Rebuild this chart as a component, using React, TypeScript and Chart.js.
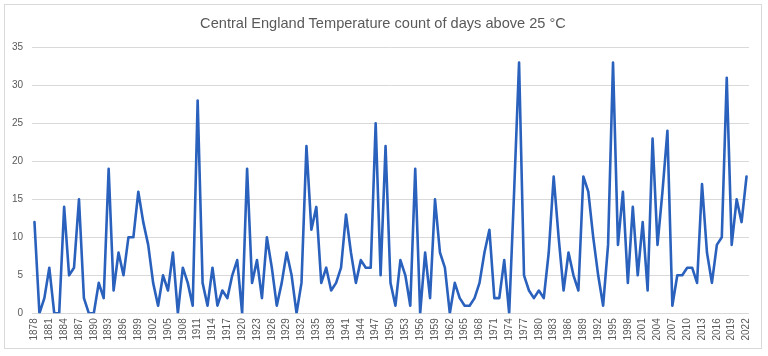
import React, { useEffect, useRef } from "react";
import { Chart, registerables } from "chart.js";

Chart.register(...registerables);

const startYear = 1878;
const endYear = 2022;
const years: string[] = Array.from({ length: endYear - startYear + 1 }, (_, i) => String(startYear + i));

// Count of days above 25 °C
const days1878to1903 = [12, 0, 2, 6, 0, 0, 14, 5, 6, 15, 2, 0, 0, 4, 2, 19, 3, 8, 5, 10, 10, 16, 12, 9, 4, 1];
const days1904to1928 = [5, 3, 8, 0, 6, 4, 1, 28, 4, 1, 6, 1, 3, 2, 5, 7, 0, 19, 4, 7, 2, 10, 6, 1, 4];
const days1929to1954 = [8, 5, 0, 4, 22, 11, 14, 4, 6, 3, 4, 6, 13, 8, 4, 7, 6, 6, 25, 5, 22, 4, 1, 7, 5, 1];
const days1955to1980 = [19, 0, 8, 2, 15, 8, 6, 0, 4, 2, 1, 1, 2, 4, 8, 11, 2, 2, 7, 0, 16, 33, 5, 3, 2, 3];
const days1981to2022 = [2, 8, 18, 10, 3, 8, 5, 3, 18, 16, 10, 5, 1, 9, 33, 9, 16, 4, 14, 5, 12, 3, 23, 9, 16, 24, 1, 5, 5, 6, 6, 4, 17, 8, 4, 9, 10, 31, 9, 15, 12, 18];

const daysAbove25 = [...days1878to1903, ...days1904to1928, ...days1929to1954, ...days1955to1980, ...days1981to2022];

const yTicks = [0, 5, 10, 15, 20, 25, 30, 35];
const titleText = "Central England Temperature count of days above 25 °C";

export default function App() {
  const ref = useRef<HTMLCanvasElement | null>(null);

  useEffect(() => {
    document.body.style.margin = "0";
    const canvas = ref.current;
    if (!canvas) return;
    const chart = new Chart(canvas, {
      type: "line",
      data: {
        labels: years,
        datasets: [
          {
            label: "Days above 25 °C",
            data: daysAbove25,
            borderColor: "#2a61bd",
            backgroundColor: "#2a61bd",
            borderWidth: 2.6,
            pointRadius: 0,
            tension: 0,
            borderJoinStyle: "round",
            borderCapStyle: "round",
          },
        ],
      },
      options: {
        responsive: false,
        animation: false,
        devicePixelRatio: 1,
        layout: { padding: { left: 0, right: 19, top: 47.3, bottom: 0 } },
        plugins: {
          legend: { display: false },
          tooltip: { enabled: false },
          title: { display: false },
        },
        scales: {
          x: {
            type: "category",
            offset: true,
            grid: { display: false, drawTicks: false },
            border: { display: false },
            ticks: {
              autoSkip: false,
              minRotation: 90,
              maxRotation: 90,
              padding: 5,
              color: "#595959",
              font: { family: "'Liberation Sans', Arial, sans-serif", size: 10 },
              callback: (_v: any, i: number) => (i % 3 === 0 ? years[i] : ""),
            },
            afterFit: (s: any) => {
              s.height = 42.7;
            },
          },
          y: {
            min: 0,
            max: 35,
            afterBuildTicks: (s: any) => {
              s.ticks = yTicks.map((v) => ({ value: v }));
            },
            grid: { color: "#d9d9d9", lineWidth: 1, drawTicks: false },
            border: { display: false },
            ticks: {
              padding: 9,
              color: "#595959",
              font: { family: "'Liberation Sans', Arial, sans-serif", size: 10 },
            },
            afterFit: (s: any) => {
              s.width = 32;
            },
          },
        },
      },
    });
    return () => chart.destroy();
  }, []);

  return (
    <div style={{ position: "fixed", left: 0, top: 0, width: 768, height: 356, background: "#ffffff" }}>
      <div
        style={{
          position: "absolute",
          left: 4,
          top: 4,
          width: 756,
          height: 343,
          border: "1px solid #d9d9d9",
          boxSizing: "content-box",
        }}
      />
      <canvas ref={ref} width={768} height={356} style={{ position: "absolute", left: 0, top: 0 }} />
      <div
        style={{
          position: "absolute",
          left: 0,
          width: 766,
          top: 15,
          textAlign: "center",
          fontFamily: "'Liberation Sans', Arial, sans-serif",
          fontSize: 14.6,
          lineHeight: "17px",
          color: "#595959",
          whiteSpace: "nowrap",
        }}
      >
        {titleText}
      </div>
    </div>
  );
}
